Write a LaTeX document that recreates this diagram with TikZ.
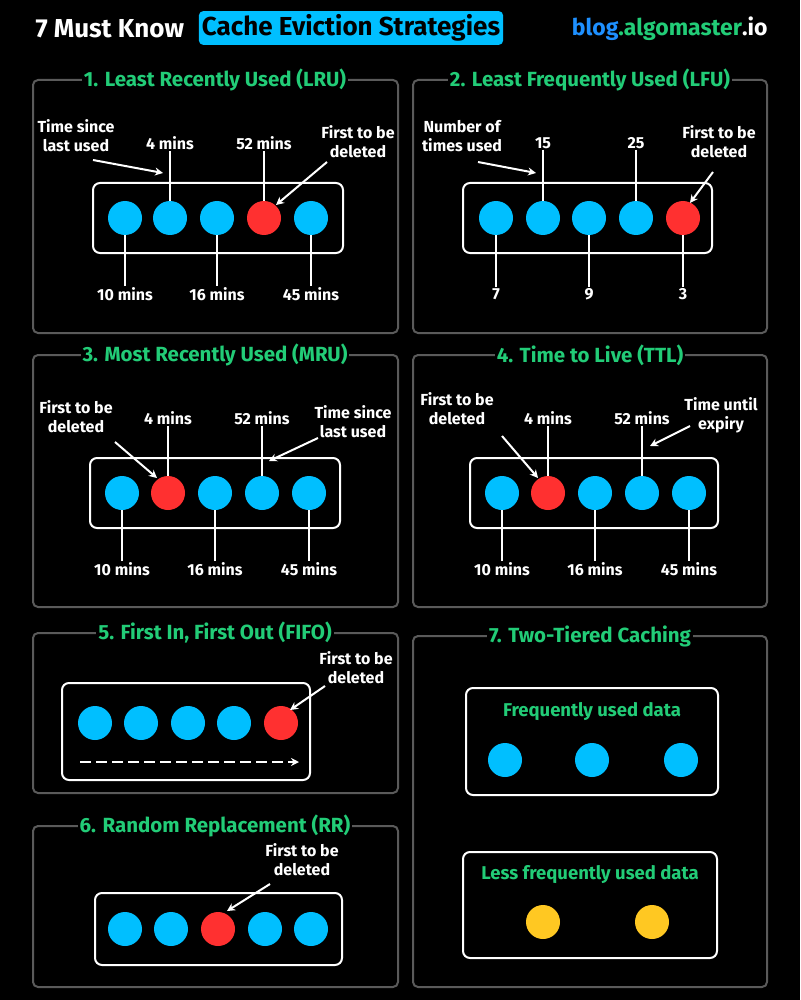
\documentclass[tikz,border=0pt]{standalone}
\usepackage{fontspec}
\setmainfont{Fira Sans}
\usetikzlibrary{arrows.meta}
\begin{document}
\definecolor{cy}{HTML}{00BFFF}
\definecolor{rd}{HTML}{FF3030}
\definecolor{gr}{HTML}{22CC77}
\definecolor{yl}{HTML}{FFC822}
\definecolor{bl}{HTML}{1E90FF}
\definecolor{pn}{HTML}{5A5A5A}
\begin{tikzpicture}[x=1pt,y=-1pt,
 panel/.style={draw=pn,line width=2pt,rounded corners=5pt},
 ptitle/.style={fill=black,text=gr,font=\bfseries\fontsize{20.5}{22}\selectfont,inner xsep=2pt,inner ysep=1pt},
 box/.style={draw=white,line width=2pt,rounded corners=7pt},
 cb/.style={circle,fill=cy,minimum size=34pt,inner sep=0pt},
 cr/.style={circle,fill=rd,minimum size=34pt,inner sep=0pt},
 cyl/.style={circle,fill=yl,minimum size=34pt,inner sep=0pt},
 lbl/.style={text=white,font=\bfseries\fontsize{16}{19}\selectfont,align=center,inner sep=1pt},
 ln/.style={draw=white,line width=2pt},
 ar/.style={draw=white,line width=2pt,-{Stealth[length=8pt,width=8pt]}}]
\fill[black] (0,0) rectangle (800,1000);
\useasboundingbox (0,0) rectangle (800,1000);
% header
\node[text=white,font=\bfseries\fontsize{26}{28}\selectfont,anchor=west] (t1) at (32,29) {7 Must Know};
\node[fill=cy,rounded corners=4pt,text=black,font=\bfseries\fontsize{26}{28}\selectfont,minimum height=32pt,inner xsep=3pt] (t2) at (351,28) {Cache Eviction Strategies};
\node[font=\bfseries\fontsize{23}{26}\selectfont,anchor=east] (t3) at (771,29) {\textcolor{bl}{blog}\textcolor{gr}{.algomaster}\textcolor{white}{.io}};
% panels
\draw[panel] (33,80) rectangle (398,333);
\node[ptitle] (p1) at (215,80) {1. Least Recently Used (LRU)};
\draw[panel] (413,80) rectangle (767,333);
\node[ptitle] (p2) at (590,80) {2. Least Frequently Used (LFU)};
\draw[panel] (33,355) rectangle (398,607);
\node[ptitle] (p3) at (215,355) {3. Most Recently Used (MRU)};
\draw[panel] (413,355) rectangle (767,607);
\node[ptitle] (p4) at (590,355) {4. Time to Live (TTL)};
\draw[panel] (33,633) rectangle (398,793);
\node[ptitle] (p5) at (215,633) {5. First In, First Out (FIFO)};
\draw[panel] (33,826) rectangle (398,987);
\node[ptitle] (p6) at (215,826) {6. Random Replacement (RR)};
\draw[panel] (413,636) rectangle (767,987);
\node[ptitle] (p7) at (590,636) {7. Two-Tiered Caching};
% LRU
\draw[box] (93,183) rectangle (343,253);
\node[cb] (a1) at (125,218) {}; \node[cb] (a2) at (170,218) {}; \node[cb] (a3) at (217,218) {};
\node[cr] (a4) at (264,218) {}; \node[cb] (a5) at (311,218) {};
\node[lbl] (la2) at (170,143) {4 mins}; \node[lbl] (la4) at (264,143) {52 mins};
\node[lbl] (la1) at (125,294) {10 mins}; \node[lbl] (la3) at (217,294) {16 mins}; \node[lbl] (la5) at (311,294) {45 mins};
\draw[ln] (la2) -- (a2); \draw[ln] (la4) -- (a4);
\draw[ln] (la1) -- (a1); \draw[ln] (la3) -- (a3); \draw[ln] (la5) -- (a5);
\node[lbl] (na) at (76,136) {Time since\\last used};
\node[lbl] (nb) at (358,142) {First to be\\deleted};
\coordinate (ka) at (163,173); \coordinate (kb) at (276,205);
\draw[ar] (93,160) -- (ka); \draw[ar] (327,162) -- (kb);
% LFU
\draw[box] (463,183) rectangle (712,253);
\node[cb] (b1) at (496,218) {}; \node[cb] (b2) at (543,218) {}; \node[cb] (b3) at (589,218) {};
\node[cb] (b4) at (636,218) {}; \node[cr] (b5) at (683,218) {};
\node[lbl] (lb2) at (543,143) {15}; \node[lbl] (lb4) at (636,143) {25};
\node[lbl] (lb1) at (496,294) {7}; \node[lbl] (lb3) at (589,294) {9}; \node[lbl] (lb5) at (683,294) {3};
\draw[ln] (lb2) -- (b2); \draw[ln] (lb4) -- (b4);
\draw[ln] (lb1) -- (b1); \draw[ln] (lb3) -- (b3); \draw[ln] (lb5) -- (b5);
\node[lbl] (nc) at (462,136) {Number of\\times used};
\node[lbl] (nd) at (719,142) {First to be\\deleted};
\coordinate (kc) at (536,173); \coordinate (kd) at (690,203);
\draw[ar] (478,162) -- (kc); \draw[ar] (713,172) -- (kd);
% MRU
\draw[box] (90,458) rectangle (340,528);
\node[cb] (m1) at (122,493) {}; \node[cr] (m2) at (168,493) {}; \node[cb] (m3) at (215,493) {};
\node[cb] (m4) at (262,493) {}; \node[cb] (m5) at (309,493) {};
\node[lbl] (lm2) at (168,418) {4 mins}; \node[lbl] (lm4) at (262,418) {52 mins};
\node[lbl] (lm1) at (122,569) {10 mins}; \node[lbl] (lm3) at (215,569) {16 mins}; \node[lbl] (lm5) at (309,569) {45 mins};
\draw[ln] (lm2) -- (m2); \draw[ln] (lm4) -- (m4);
\draw[ln] (lm1) -- (m1); \draw[ln] (lm3) -- (m3); \draw[ln] (lm5) -- (m5);
\node[lbl] (ne) at (76,417) {First to be\\deleted};
\node[lbl] (nf) at (353,422) {Time since\\last used};
\coordinate (ke) at (157,478); \coordinate (kf) at (269,461);
\draw[ar] (115,442) -- (ke); \draw[ar] (318,438) -- (kf);
% TTL
\draw[box] (470,458) rectangle (718,528);
\node[cb] (t1c) at (502,493) {}; \node[cr] (t2c) at (548,493) {}; \node[cb] (t3c) at (595,493) {};
\node[cb] (t4c) at (642,493) {}; \node[cb] (t5c) at (689,493) {};
\node[lbl] (lt2) at (548,418) {4 mins}; \node[lbl] (lt4) at (642,418) {52 mins};
\node[lbl] (lt1) at (502,569) {10 mins}; \node[lbl] (lt3) at (595,569) {16 mins}; \node[lbl] (lt5) at (689,569) {45 mins};
\draw[ln] (lt2) -- (t2c); \draw[ln] (lt4) -- (t4c);
\draw[ln] (lt1) -- (t1c); \draw[ln] (lt3) -- (t3c); \draw[ln] (lt5) -- (t5c);
\node[lbl] (ng) at (457,409) {First to be\\deleted};
\node[lbl] (nh) at (721,415) {Time until\\expiry};
\coordinate (kg) at (538,478); \coordinate (kh) at (650,446);
\draw[ar] (502,436) -- (kg); \draw[ar] (690,426) -- (kh);
% FIFO
\draw[box] (62,683) rectangle (310,780);
\node[cb] (f1) at (95,723) {}; \node[cb] (f2) at (141,723) {}; \node[cb] (f3) at (188,723) {};
\node[cb] (f4) at (234,723) {}; \node[cr] (f5) at (281,723) {};
\coordinate (fs) at (80,762); \coordinate (fe) at (299,762);
\draw[white,line width=2pt,dash pattern=on 11pt off 5pt,-{Stealth[length=8pt,width=8pt]}] (fs) -- (fe);
\node[lbl] (ni) at (356,668) {First to be\\deleted};
\coordinate (ki) at (290,710);
\draw[ar] (325,686) -- (ki);
% RR
\draw[box] (95,893) rectangle (342,965);
\node[cb] (r1) at (125,929) {}; \node[cb] (r2) at (171,929) {}; \node[cr] (r3) at (218,929) {};
\node[cb] (r4) at (265,929) {}; \node[cb] (r5) at (311,929) {};
\node[lbl] (nj) at (302,860) {First to be\\deleted};
\coordinate (kj) at (227,911);
\draw[ar] (270,884) -- (kj);
% Two-tier
\draw[box] (466,688) rectangle (718,795);
\node[text=gr,font=\bfseries\fontsize{18.5}{20}\selectfont] (q1) at (592,712) {Frequently used data};
\node[cb] (u1) at (505,760) {}; \node[cb] (u2) at (592,760) {}; \node[cb] (u3) at (681,760) {};
\draw[box] (463,852) rectangle (717,958);
\node[text=gr,font=\bfseries\fontsize{18.5}{20}\selectfont] (q2) at (590,875) {Less frequently used data};
\node[cyl] (v1) at (543,922) {}; \node[cyl] (v2) at (652,922) {};
\end{tikzpicture}
\end{document}
